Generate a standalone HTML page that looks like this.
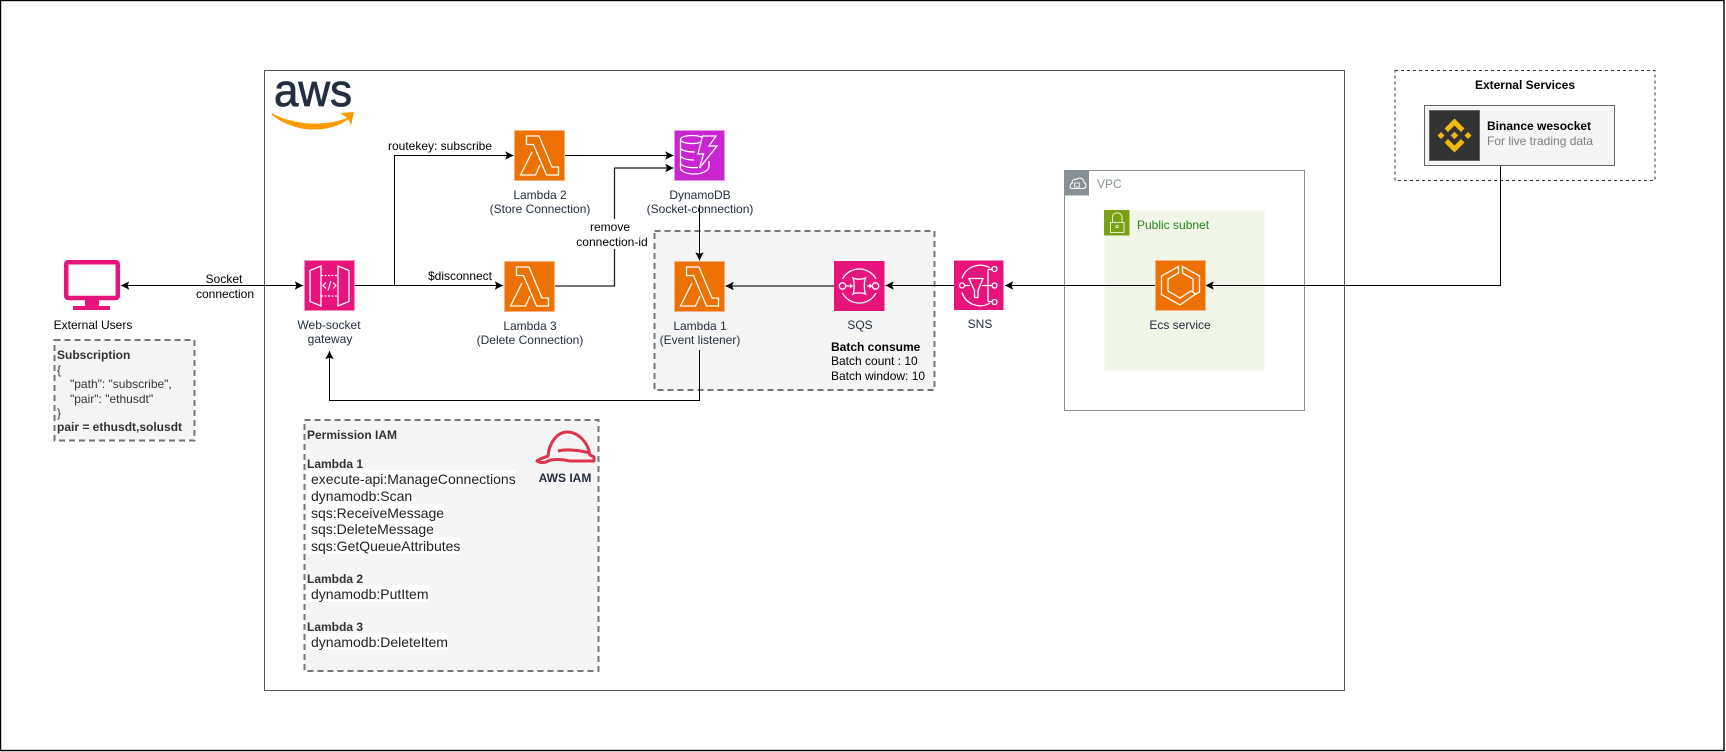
<!DOCTYPE html>
<html>
<head>
<meta charset="utf-8">
<style>
html,body{margin:0;padding:0;background:#fff;}
svg{display:block;}
text{font-family:"Liberation Sans",sans-serif;font-size:12px;}
.c{text-anchor:middle;fill:#232F3E;}
.k{text-anchor:middle;fill:#000;}
.g{fill:#333;}
.b{font-weight:bold;}
.ln{fill:none;stroke:#000;stroke-width:1;}
.gr{fill:none;stroke:#222;stroke-width:1.300;}
.i{fill:none;stroke:#fff;stroke-width:1.300;}
.p{font-size:14px;fill:#222;}
</style>
</head>
<body>
<svg width="1726" height="752" viewBox="0 0 1726 752" xmlns="http://www.w3.org/2000/svg">
<defs>
<marker id="a" markerUnits="userSpaceOnUse" markerWidth="10" markerHeight="10" refX="8.500" refY="5" orient="auto-start-reverse">
<path d="M0.200 0.800L8.500 5L0.200 9.200L2 5Z" fill="#000"/>
</marker>
<g id="lam">
<rect width="50" height="50" fill="#ED7100"/>
<rect x=".5" y=".5" width="50" height="50" fill="none" stroke="#f6b27e" stroke-width="1"/>
<path class="i" d="M12.500 6H25L38 37H44.500V45H32.500L19.500 14.500H12.500Z"/>
<path class="i" d="M18 22L6.500 45H21.500L26 35"/>
</g>
</defs>

<rect width="1726" height="752" fill="#fff"/>
<rect x="0.500" y="0.500" width="1723.500" height="750" fill="none" stroke="#000" stroke-width="1.400"/>

<!-- AWS frame -->
<rect x="264.500" y="70.500" width="1080" height="620" fill="#fff" stroke="#555" stroke-width="1"/>
<text x="274" y="106" textLength="78" lengthAdjust="spacingAndGlyphs" style="font-size:45px;fill:#232F3E;stroke:#232F3E;stroke-width:.8">aws</text>
<path d="M272 114C296 133 328 133 349 118C328 127 296 127 272 114Z" fill="#F90" stroke="#F90" stroke-width="1.500"/>
<path d="M340 113L354 112L351 126C350 120 347 117 340 113Z" fill="#F90"/>

<!-- dashed boxes -->
<rect x="54.500" y="340" width="140" height="100.500" fill="#f5f5f5" stroke="#777" stroke-width="2" stroke-dasharray="6 4"/>
<rect x="654.500" y="231" width="280" height="159" fill="#f5f5f5" stroke="#777" stroke-width="2" stroke-dasharray="6 4"/>
<rect x="304.500" y="420" width="294" height="251" fill="#f5f5f5" stroke="#777" stroke-width="2" stroke-dasharray="6 4"/>

<!-- VPC -->
<rect x="1064.500" y="170.500" width="240" height="240" fill="#fff" stroke="#879196" stroke-width="1"/>
<rect x="1064" y="170" width="25" height="25.500" fill="#879196"/>
<path d="M1071.500 188.500H1083C1086.500 188.500 1087 183.500 1084 182.500C1084 178.500 1079 176.500 1076.500 179.500C1073 178.500 1071.500 181.500 1072.500 183C1069.500 184 1069.500 188.500 1071.500 188.500Z" fill="none" stroke="#fff" stroke-width="1"/>
<rect x="1074.500" y="183" width="5" height="4" fill="none" stroke="#fff" stroke-width=".8"/>
<text x="1097" y="188" fill="#879196">VPC</text>
<rect x="1104.500" y="210.500" width="160" height="160" fill="#F2F6E8"/>
<rect x="1104" y="210" width="25.500" height="25.500" fill="#7AA116"/>
<path d="M1112.500 222.500V217C1112.500 211.500 1122 211.500 1122 217V222.500M1110.500 222.500H1124V232.500H1110.500Z" fill="none" stroke="#fff" stroke-width=".8"/>
<circle cx="1117" cy="226.500" r="1.200" fill="none" stroke="#fff" stroke-width=".7"/>
<text x="1137" y="229" fill="#248814">Public subnet</text>

<!-- External services -->
<rect x="1395" y="70.500" width="260" height="110" fill="#fff" stroke="#333" stroke-width="1" stroke-dasharray="3 3"/>
<text x="1525" y="89" class="k b">External Services</text>
<rect x="1424.500" y="105.500" width="190" height="60" fill="#f5f5f5" stroke="#666" stroke-width="1"/>
<rect x="1429.500" y="110.500" width="50" height="50" fill="#333" stroke="#666" stroke-width="1"/>
<g fill="#F0B90B" transform="translate(1454.500 135.500)">
<path d="M0 -3.800L3.800 0L0 3.800L-3.800 0Z"/>
<path d="M-13.500 -3.500L-10 0L-13.500 3.500L-17 0Z"/>
<path d="M13.500 -3.500L17 0L13.500 3.500L10 0Z"/>
<path d="M0 -17L10 -7L6.500 -3.500L0 -10L-6.500 -3.500L-10 -7Z"/>
<path d="M0 17L10 7L6.500 3.500L0 10L-6.500 3.500L-10 7Z"/>
</g>
<text x="1487" y="130" class="b" fill="#000">Binance wesocket</text>
<text x="1487" y="145" fill="#808080">For live trading data</text>

<!-- connectors -->
<path class="ln" d="M121 285.500H303" marker-start="url(#a)" marker-end="url(#a)"/>
<path class="ln" d="M355 285.500H503" marker-end="url(#a)"/>
<path class="ln" d="M394.500 285.500V155.500H513.500" marker-end="url(#a)"/>
<path class="ln" d="M565 155.500H673.500" marker-end="url(#a)"/>
<path class="gr" d="M555 286H614.500V168H673.500" marker-end="url(#a)"/>
<path class="ln" d="M699.500 205V260.500" marker-end="url(#a)"/>
<path class="gr" d="M834 286H725.500" marker-end="url(#a)"/>
<path class="ln" d="M954 285.500H885.500" marker-end="url(#a)"/>
<path class="ln" d="M1155 285.500H1005" marker-end="url(#a)"/>
<path class="ln" d="M1500.500 166V285.500H1205.500" marker-end="url(#a)"/>
<path class="ln" d="M699.500 350V400.500H329.500V351" marker-end="url(#a)"/>

<!-- connector labels -->
<text x="224" y="283" class="k">Socket</text>
<text x="225" y="298" class="k">connection</text>
<text x="440" y="150" class="k">routekey: subscribe</text>
<text x="460" y="280" class="k">$disconnect</text>
<rect x="575" y="219" width="76" height="30" fill="#fff"/>
<text x="610" y="231" class="k">remove</text>
<text x="612" y="246" class="k">connection-id</text>

<!-- External Users monitor -->
<rect x="66.200" y="262.200" width="51.600" height="35.800" rx="2" fill="#fff" stroke="#E7157B" stroke-width="4.500"/>
<path d="M85 299H99V306H110V310H73V306H85Z" fill="#E7157B"/>
<text x="93" y="329" class="k" fill="#000">External Users</text>

<!-- Gateway -->
<g transform="translate(304 260)">
<rect width="50.500" height="50.500" fill="#E7157B"/>
<rect x=".5" y=".5" width="50" height="50" fill="none" stroke="#f28fbd"/>
<path class="i" d="M6 10.500L17 6V46L6 41.500Z M34 6L45 10.500V41.500L34 46Z"/>
<path d="M17 15.500H34M17 36H34" fill="none" stroke="#fff" stroke-width="1.200" stroke-dasharray="2 1.500"/>
<path d="M22 22.500L19 25.500L22 28.500M29 22.500L32 25.500L29 28.500M27 21L24 30.500" fill="none" stroke="#fff" stroke-width="1.100"/>
</g>
<text x="329" y="329" class="c">Web-socket</text>
<text x="330" y="343" class="c">gateway</text>

<!-- Lambdas -->
<use href="#lam" x="514" y="130"/>
<text x="540" y="199" class="c">Lambda 2</text>
<text x="540" y="213" class="c">(Store Connection)</text>
<use href="#lam" x="504" y="261"/>
<text x="530" y="330" class="c">Lambda 3</text>
<text x="530" y="344" class="c">(Delete Connection)</text>
<use href="#lam" x="674" y="261"/>
<text x="700" y="330" class="c">Lambda 1</text>
<text x="700" y="344" class="c">(Event listener)</text>

<!-- DynamoDB -->
<g transform="translate(674 130)">
<rect width="50.500" height="50.500" fill="#C925D1"/>
<rect x=".5" y=".5" width="50" height="50" fill="none" stroke="#e296e8"/>
<ellipse cx="18" cy="9.500" rx="11.500" ry="4" fill="none" stroke="#fff" stroke-width="1.300"/>
<path class="i" d="M6.500 9.500V38C6.500 41.500 13 44 20 44C27 44 34 41.500 35 37V31M6.500 18.500C9 21 14 22 21 22M6.500 26C9 29 14 30 20 30M6.500 33.500C9 37 16 38 24 37.500"/>
<path class="i" d="M28.500 6L24 24H29.500L25.500 38L43 16H35L42 6Z" style="fill:#C925D1"/>
</g>
<text x="700" y="199" class="c">DynamoDB</text>
<text x="700" y="213" class="c">(Socket-connection)</text>

<!-- SQS -->
<g transform="translate(834 261)">
<rect width="50.500" height="50" fill="#E7157B"/>
<path class="i" d="M8.500 18A19 19 0 0 1 42 18M8.500 32A19 19 0 0 0 42 32"/>
<circle cx="8.500" cy="25" r="3.200" class="i"/>
<circle cx="41.500" cy="25" r="3.200" class="i"/>
<path class="i" d="M19 17C22 18.500 28 18.500 31.500 17C30 20 30 30 31.500 33C28 31.500 22 31.500 19 33C20.500 30 20.500 20 19 17Z"/>
<path d="M12 25H18M33 25H38" stroke="#fff" stroke-width="1.200"/>
<path d="M16 22.500L19 25L16 27.500ZM35.500 22.500L38.500 25L35.500 27.500Z" fill="#fff"/>
</g>
<text x="860" y="329" class="c">SQS</text>
<text x="831" y="351" class="b" fill="#000">Batch consume</text>
<text x="831" y="365" fill="#000">Batch count : 10</text>
<text x="831" y="380" fill="#000">Batch window: 10</text>

<!-- SNS -->
<g transform="translate(954 260.500)">
<rect width="49.500" height="49.500" fill="#E7157B"/>
<path class="i" d="M8 18A19 19 0 0 1 36 7.500M8 32A19 19 0 0 0 36 42.500"/>
<circle cx="8" cy="25" r="2.500" class="i"/>
<path class="i" d="M15 18H29L24 30V37H20.500V30Z"/>
<path class="i" d="M11 25H16M28 25H38M34 9V41M34 9H38M34 41H38"/>
<circle cx="40.500" cy="8.500" r="2.500" class="i"/>
<circle cx="40.500" cy="25" r="2.500" class="i"/>
<circle cx="40.500" cy="41.500" r="2.500" class="i"/>
</g>
<text x="980" y="328" class="c">SNS</text>

<!-- ECS -->
<g transform="translate(1155 260)">
<rect width="50.500" height="50.500" fill="#ED7100"/>
<rect x=".5" y=".5" width="50" height="50" fill="none" stroke="#f6b27e"/>
<path class="i" d="M23.500 6.500V13L13 19V31L25 38L36 31L40.500 34L25 45L6.500 34.500V16Z"/>
<path class="i" d="M27.500 6.500V13L38 19V32L41 34L44.500 32V16Z"/>
</g>
<text x="1180" y="329" class="c">Ecs service</text>

<!-- Subscription text -->
<text x="57" y="359" class="g b">Subscription</text>
<text x="57" y="374" class="g">{</text>
<text x="70" y="388" class="g">"path": "subscribe",</text>
<text x="70" y="403" class="g">"pair": "ethusdt"</text>
<text x="57" y="417" class="g">}</text>
<text x="57" y="431" class="g b">pair = ethusdt,solusdt</text>

<!-- IAM -->
<text x="307" y="439" class="g b">Permission IAM</text>
<text x="307" y="468" class="g b">Lambda 1</text>
<rect x="307" y="470" width="209" height="17" fill="#fff"/>
<rect x="307" y="487" width="105" height="17" fill="#fff"/>
<rect x="307" y="504" width="137" height="16" fill="#fff"/>
<rect x="307" y="520" width="127" height="17" fill="#fff"/>
<rect x="307" y="537" width="153" height="17" fill="#fff"/>
<text x="311" y="484" class="p">execute-api:ManageConnections</text>
<text x="311" y="501" class="p">dynamodb:Scan</text>
<text x="311" y="518" class="p">sqs:ReceiveMessage</text>
<text x="311" y="534" class="p">sqs:DeleteMessage</text>
<text x="311" y="551" class="p">sqs:GetQueueAttributes</text>
<text x="307" y="583" class="g b">Lambda 2</text>
<rect x="307" y="585" width="121" height="17" fill="#fff"/>
<text x="311" y="599" class="p">dynamodb:PutItem</text>
<text x="307" y="631" class="g b">Lambda 3</text>
<rect x="307" y="633" width="141" height="17" fill="#fff"/>
<text x="311" y="647" class="p">dynamodb:DeleteItem</text>
<path d="M537 461C540 458 544 458 548 456C549 442 558 432 567 432C578 432 588 442 590 455L594 457V461H570C560 459 553 459 548 461C545 463 540 463 537 461Z" fill="none" stroke="#DD344C" stroke-width="3" stroke-linejoin="round"/>
<path d="M558 451C566 449 578 450 590 453" fill="none" stroke="#DD344C" stroke-width="3"/>
<text x="565" y="482" class="c b">AWS IAM</text>
</svg>
</body>
</html>
